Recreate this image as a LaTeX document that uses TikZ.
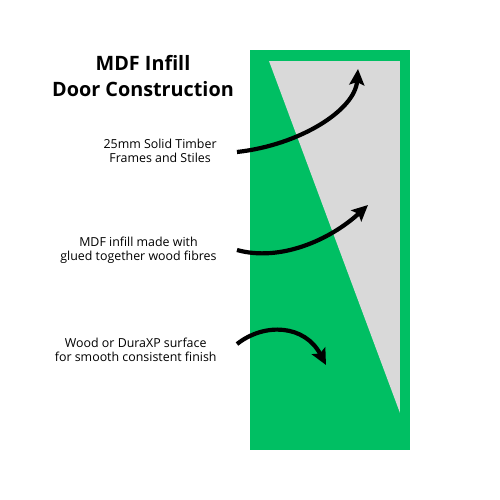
\documentclass[tikz,border=0pt]{standalone}
\usepackage{fontspec}
\setmainfont{Open Sans}
\usepackage{xcolor}
\usepackage{tikz}
\usetikzlibrary{arrows.meta, positioning}

\definecolor{doorgreen}{HTML}{00BF63}
\definecolor{infillgrey}{HTML}{D9D9D9}

\begin{document}
\begin{tikzpicture}[
    x=0.5pt, y=-0.5pt,
    title/.style = {align=center, font=\fontsize{9.9}{13}\selectfont\bfseries},
    callout/.style = {align=center, anchor=east, inner xsep=10pt, font=\fontsize{6.2}{7}\selectfont},
    arrow/.style = {line width=2.1pt, -{Stealth[length=8pt, width=7.5pt, inset=1.5pt]}}
]
    \useasboundingbox (0,0) rectangle (500,500);

    % Door
    \fill[doorgreen] (250,50) rectangle (410,450);
    \fill[infillgrey] (269,61) -- (400,61) -- (400,413) -- cycle;

    % Nodes
    \node (heading) [title] at (143,76) {MDF Infill\\Door Construction};
    \node (timber) [callout] at (237,151) {25mm Solid Timber\\ Frames and Stiles};
    \node (infill) [callout] at (237,250) {MDF infill made with\\glued together wood fibres};
    \node (surface) [callout] at (237,350) {Wood or DuraXP surface\\for smooth consistent finish};

    \coordinate (frameTip) at (358,69);
    \coordinate (infillTip) at (368,205);
    \coordinate (surfaceTip) at (326,365);

    % Arrows
    \draw [arrow] ([yshift=-0.5pt]timber.east) .. controls (300,145) and (355,110) .. (frameTip);
    \draw [arrow] (infill.east) .. controls (280,262) and (330,240) .. (infillTip);
    \draw [arrow] ([yshift=3pt]surface.east) .. controls (265,322) and (305,325) .. (surfaceTip);

\end{tikzpicture}
\end{document}
